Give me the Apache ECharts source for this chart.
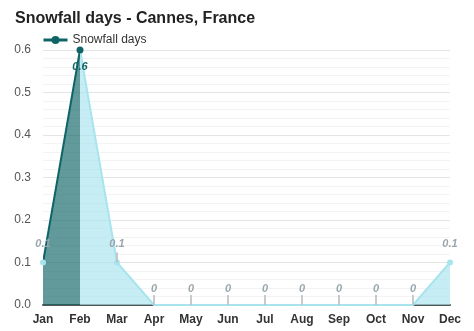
<!DOCTYPE html>
<html>
<head>
<meta charset="utf-8">
<script src="https://cdn.jsdelivr.net/npm/echarts@6/dist/echarts.min.js"></script>
<style>
  html, body { margin: 0; padding: 0; background: #fff; }
  #chart { width: 474px; height: 331px; }
</style>
</head>
<body>
<div id="chart"></div>
<script>
var months = ['Jan', 'Feb', 'Mar', 'Apr', 'May', 'Jun', 'Jul', 'Aug', 'Sep', 'Oct', 'Nov', 'Dec'];
var snowDays = [0.1, 0.6, 0.1, 0, 0, 0, 0, 0, 0, 0, 0, 0.1];
var yTicks = [0, 0.1, 0.2, 0.3, 0.4, 0.5, 0.6];

var dark = '#0e6467';
var light = '#a8e4ee';

var chart = echarts.init(document.getElementById('chart'));

// line points, the highlighted month gets the dark marker and label
var lineData = snowDays.map(function (v, i) {
    var hi = i === 1;
    return {
        value: v,
        symbol: 'circle',
        symbolSize: v > 0 ? (hi ? 7 : 6) : 0.1,
        itemStyle: { color: hi ? dark : light },
        label: {
            position: hi ? 'bottom' : 'top',
            distance: hi ? 8 : 10,
            color: hi ? dark : '#9aa6ab'
        }
    };
});

// small grey stems over the months after Feb
var stemData = snowDays.map(function (v, i) {
    return (i >= 2 && i <= 10) ? v : '-';
});

var option = {
    animation: false,
    title: {
        text: 'Snowfall days - Cannes, France',
        left: 10,
        top: 6,
        textStyle: { fontFamily: 'Arial, Liberation Sans', fontSize: 16, fontWeight: 'bold', color: '#222' }
    },
    legend: {
        left: 37,
        top: 29,
        itemWidth: 24,
        itemHeight: 10,
        itemStyle: { color: dark },
        lineStyle: { color: dark, width: 3 },
        textStyle: { fontFamily: 'Arial, Liberation Sans', fontSize: 12, color: '#333' },
        data: ['Snowfall days']
    },
    grid: { left: 43, right: 24, top: 50, bottom: 26 },
    visualMap: {
        show: false,
        dimension: 0,
        seriesIndex: 0,
        pieces: [
            { gte: 0, lte: 1, color: dark },
            { gt: 1, color: light }
        ]
    },
    xAxis: {
        type: 'category',
        boundaryGap: false,
        data: months,
        axisLine: { lineStyle: { color: '#555', width: 2 } },
        axisTick: { show: false },
        axisLabel: {
            margin: 9,
            fontFamily: 'Arial, Liberation Sans',
            fontSize: 12,
            fontWeight: 'bold',
            color: '#333'
        }
    },
    yAxis: {
        type: 'value',
        min: yTicks[0],
        max: yTicks[yTicks.length - 1],
        interval: 0.1,
        axisLine: { show: false },
        axisTick: { show: false },
        axisLabel: {
            margin: 12,
            fontFamily: 'Arial, Liberation Sans',
            fontSize: 12,
            color: '#555',
            formatter: function (v) { return v.toFixed(1); }
        },
        splitLine: { lineStyle: { color: '#e4e4e4' } },
        minorTick: { show: false, splitNumber: 5 },
        minorSplitLine: { show: true, lineStyle: { color: '#f3f3f3' } }
    },
    series: [
        {
            name: 'Snowfall days',
            type: 'line',
            data: lineData,
            color: dark,
            symbol: 'circle',
            lineStyle: { width: 2 },
            areaStyle: { opacity: 0.65 },
            label: {
                show: true,
                fontFamily: 'Arial, Liberation Sans',
                fontSize: 11,
                fontStyle: 'italic',
                fontWeight: 'bold'
            },
            z: 3
        },
        {
            name: 'stem',
            type: 'scatter',
            data: stemData,
            symbol: 'rect',
            symbolSize: [2, 10],
            symbolOffset: [0, -5],
            itemStyle: { color: '#b9bec0' },
            silent: true,
            z: 4
        }
    ]
};

chart.setOption(option);
</script>
</body>
</html>
